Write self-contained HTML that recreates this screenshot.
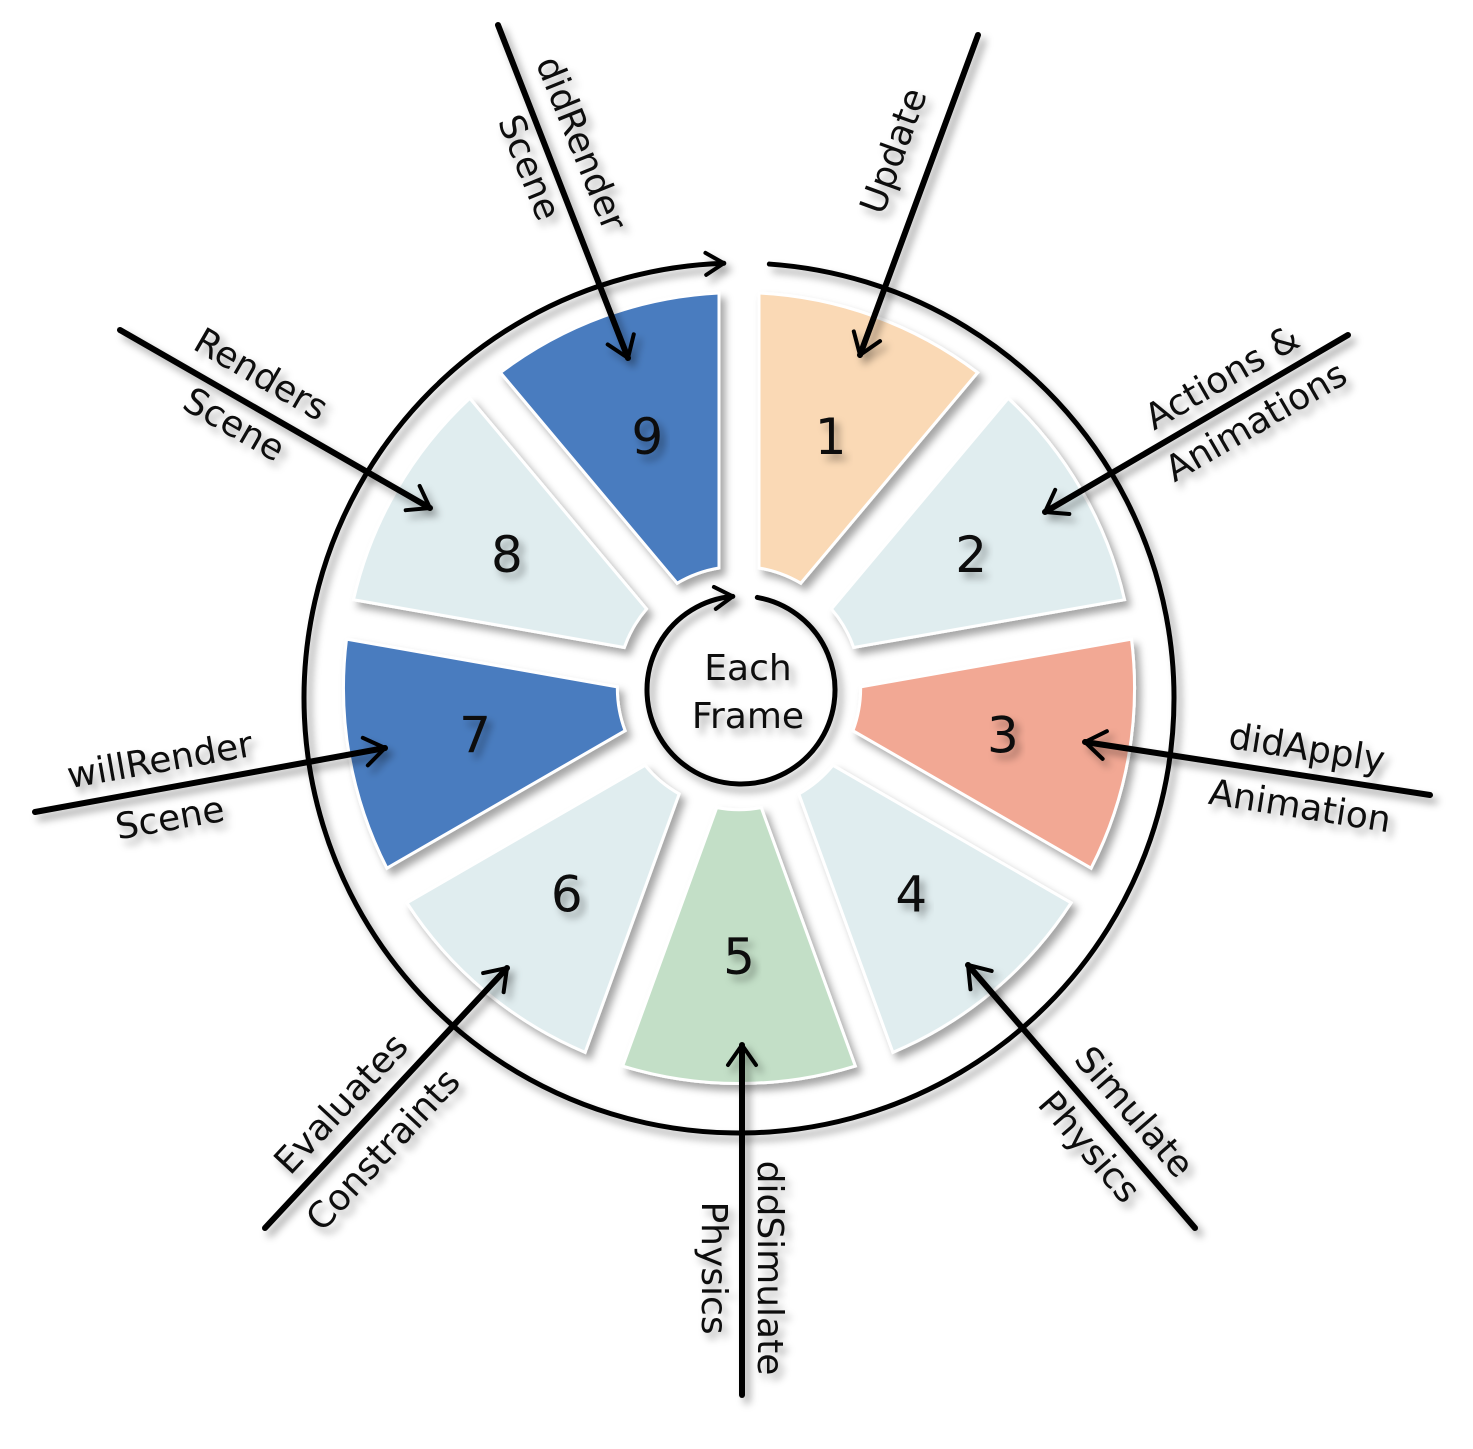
<!DOCTYPE html>
<html><head><meta charset="utf-8"><style>
html,body{margin:0;padding:0;background:#fff;}
svg{display:block;}
text{font-family:"DejaVu Sans","Liberation Sans",sans-serif;fill:#111;}
</style></head><body>
<svg id="s" width="1473" height="1449" viewBox="0 0 1473 1449" xmlns="http://www.w3.org/2000/svg">
<defs>
<filter id="sh" x="-20%" y="-20%" width="140%" height="140%"><feDropShadow dx="5" dy="6" stdDeviation="4" flood-color="#000" flood-opacity="0.35"/></filter>
<marker id="ah" markerWidth="30" markerHeight="30" refX="26" refY="15" orient="auto" markerUnits="userSpaceOnUse" viewBox="0 0 30 30"><path d="M8,4 L26,15 L8,26" fill="none" stroke="#000" stroke-width="4" stroke-linecap="round" stroke-linejoin="round"/></marker>
<marker id="ah2" markerWidth="40" markerHeight="40" refX="34" refY="20" orient="auto" markerUnits="userSpaceOnUse" viewBox="0 0 40 40"><path d="M14,6 L34,20 L14,34" fill="none" stroke="#000" stroke-width="4" stroke-linecap="round" stroke-linejoin="round"/></marker>
</defs>
<g id="wedges" filter="url(#sh)"></g>
<g id="nums"></g>
<g filter="url(#sh)" fill="none" stroke="#000" stroke-width="5" stroke-linecap="round">
<path id="outer"/>
<path id="inner"/>
</g>
<g filter="url(#sh)" stroke="#000" stroke-width="6" stroke-linecap="round" fill="none">
<line x1="978" y1="35" x2="860" y2="355" marker-end="url(#ah2)"/>
<line x1="1348" y1="335" x2="1045" y2="512" marker-end="url(#ah2)"/>
<line x1="1430" y1="795" x2="1085" y2="742" marker-end="url(#ah2)"/>
<line x1="1195" y1="1228" x2="968" y2="965" marker-end="url(#ah2)"/>
<line x1="742" y1="1395" x2="742" y2="1045" marker-end="url(#ah2)"/>
<line x1="265" y1="1228" x2="507" y2="968" marker-end="url(#ah2)"/>
<line x1="35" y1="812" x2="385" y2="748" marker-end="url(#ah2)"/>
<line x1="120" y1="330" x2="430" y2="508" marker-end="url(#ah2)"/>
<line x1="498" y1="25" x2="628" y2="358" marker-end="url(#ah2)"/>
</g>
<g font-size="36" text-anchor="middle" filter="url(#sh)">
<text transform="translate(905,155) rotate(-70)">Update</text>
<text transform="translate(1228,388) rotate(-30)">Actions &amp;</text>
<text transform="translate(1262,432) rotate(-30)">Animations</text>
<text transform="translate(1305,760) rotate(9)">didApply</text>
<text transform="translate(1298,818) rotate(9)">Animation</text>
<text transform="translate(1125,1120) rotate(49)">Simulate</text>
<text transform="translate(1080,1155) rotate(49)">Physics</text>
<text transform="translate(758,1268) rotate(90)">didSimulate</text>
<text transform="translate(702,1268) rotate(90)">Physics</text>
<text transform="translate(350,1112) rotate(-47)">Evaluates</text>
<text transform="translate(392,1158) rotate(-47)">Constraints</text>
<text transform="translate(162,772) rotate(-10)">willRender</text>
<text transform="translate(172,830) rotate(-10)">Scene</text>
<text transform="translate(255,385) rotate(30)">Renders</text>
<text transform="translate(228,435) rotate(30)">Scene</text>
<text transform="translate(570,148) rotate(68)">didRender</text>
<text transform="translate(518,172) rotate(68)">Scene</text>
<text x="748" y="680">Each</text>
<text x="748" y="728">Frame</text>
</g>
</svg>
<script>
var cx=739,cy=688,R=395,r=112,g=20;
var cols=["#fad9b5","#e0edef","#f2a894","#e0edef","#c3dfc7","#e0edef","#4a7bbf","#e0edef","#4a7bbf"];
var W=document.getElementById("wedges"),N=document.getElementById("nums");
function pt(a,rad,off){var t=a*Math.PI/180;var dx=Math.sin(t),dy=-Math.cos(t);var px=Math.cos(t),py=Math.sin(t);return [cx+dx*rad+px*off,cy+dy*rad+py*off];}
for(var i=0;i<9;i++){
 var a0=i*40,a1=a0+40;
 var p1=pt(a0,r+8,g),p2=pt(a0,R,g),p3=pt(a1,R,-g),p4=pt(a1,r+8,-g);
 var d="M"+p1+" L"+p2+" A"+R+" "+R+" 0 0 1 "+p3+" L"+p4+" A"+(r+8)+" "+(r+8)+" 0 0 0 "+p1+"Z";
 var p=document.createElementNS("http://www.w3.org/2000/svg","path");
 p.setAttribute("d",d);p.setAttribute("fill",cols[i]);p.setAttribute("stroke","#fff");p.setAttribute("stroke-width","3");
 W.appendChild(p);
 var c=pt(a0+20,268,0);
 var t=document.createElementNS("http://www.w3.org/2000/svg","text");
 t.setAttribute("x",c[0]);t.setAttribute("y",c[1]+18);t.setAttribute("font-size","50");
 t.setAttribute("text-anchor","middle");t.setAttribute("fill","#111");t.setAttribute("filter","url(#sh)");t.textContent=(i+1);
 N.appendChild(t);
}
function arcp(rad,ccx,ccy,a0,a1){var s=[ccx+rad*Math.sin(a0*Math.PI/180),ccy-rad*Math.cos(a0*Math.PI/180)],e=[ccx+rad*Math.sin(a1*Math.PI/180),ccy-rad*Math.cos(a1*Math.PI/180)];return "M"+s+" A"+rad+" "+rad+" 0 1 1 "+e;}
var o=document.getElementById("outer");o.setAttribute("d",arcp(435,739,698,4,358));o.setAttribute("marker-end","url(#ah)");
var n=document.getElementById("inner");n.setAttribute("d",arcp(94,741,690,10,355));n.setAttribute("marker-end","url(#ah)");
</script>
</body></html>
